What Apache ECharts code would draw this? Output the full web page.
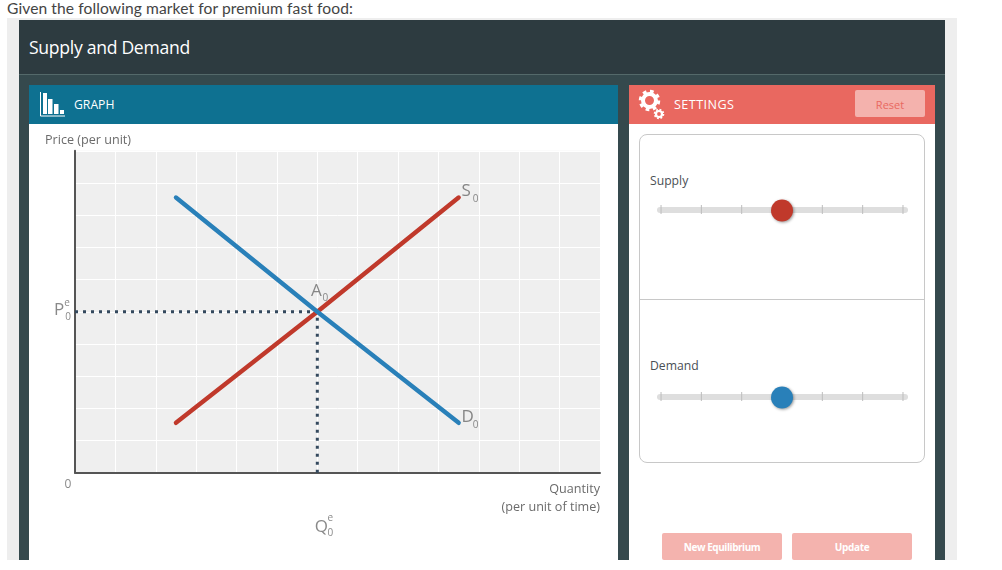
<!DOCTYPE html>
<html lang="en">
<head>
<meta charset="UTF-8">
<title>Supply and Demand</title>
<style>
  html, body { margin: 0; padding: 0; background: #fff; overflow: hidden; }
  body { width: 1002px; height: 570px; position: relative; font-family: "Open Sans", sans-serif; }
  div.b { position: absolute; box-sizing: border-box; }
  div.t { position: absolute; white-space: nowrap; }
  svg { position: absolute; }
  #chart { position: absolute; left: 0; top: 0; width: 1002px; height: 570px; }
</style>
</head>
<body>
  <div class="t" style="left:7px;top:-2px;font:15.6px/20px Lato,sans-serif;color:#444;letter-spacing:0.09px;">Given the following market for premium fast food:</div>
  <div class="b" style="left:7px;top:18px;width:950px;height:542px;background:#eee;"></div>
  <div class="b" style="left:19px;top:20px;width:926px;height:540px;background:#35494d;"></div>
  <div class="b" style="left:19px;top:20px;width:926px;height:55px;background:#2d3b40;border-bottom:1px solid #54696a;"></div>
  <div class="t" style="left:29px;top:35px;font-size:17.6px;font-weight:500;line-height:24px;color:#fff;letter-spacing:-0.3px;">Supply and Demand</div>

  <div class="b" style="left:29px;top:85px;width:589px;height:475px;background:#fff;"></div>
  <div class="b" style="left:29px;top:85px;width:589px;height:39px;background:#0e7191;"></div>
  <svg style="left:39px;top:91px;" width="28" height="28">
    <path d="M1.5 1V25H26" fill="none" stroke="#fff" stroke-width="1"/>
    <rect x="4" y="2" width="4" height="21" fill="#fff"/>
    <rect x="9" y="8" width="4.5" height="15" fill="#fff"/>
    <rect x="15" y="13" width="4.5" height="10" fill="#fff"/>
    <rect x="21" y="19" width="4" height="4" fill="#fff"/>
  </svg>
  <div class="t" style="left:74px;top:96px;font-size:12.2px;line-height:17px;color:#fff;">GRAPH</div>

  <div class="b" style="left:629px;top:85px;width:306px;height:475px;background:#fff;"></div>
  <div class="b" style="left:629px;top:85px;width:306px;height:39px;background:#e96860;"></div>
  <svg style="left:636px;top:86px;" width="34" height="36">
    <circle cx="13.5" cy="14.5" r="6.5" fill="none" stroke="#fff" stroke-width="4"/>
    <circle cx="13.5" cy="14.5" r="9" fill="none" stroke="#fff" stroke-width="3.5" stroke-dasharray="3.6 3.5"/>
    <circle cx="23" cy="28" r="3" fill="none" stroke="#fff" stroke-width="2.2"/>
    <circle cx="23" cy="28" r="4.4" fill="none" stroke="#fff" stroke-width="1.8" stroke-dasharray="1.8 1.65"/>
  </svg>
  <div class="t" style="left:674px;top:96px;font-size:12.6px;line-height:17px;color:#fff;letter-spacing:0.45px;">SETTINGS</div>
  <div class="b" style="left:855px;top:90px;width:70px;height:27px;background:#f4b2ad;border-radius:2px;text-align:center;font-size:11px;line-height:29px;color:#e96860;">Reset</div>

  <div class="b" style="left:639px;top:134px;width:286px;height:329px;border:1px solid #c8c8c8;border-radius:8px;"></div>
  <div class="b" style="left:640px;top:299px;width:284px;height:1px;background:#c8c8c8;"></div>
  <div class="t" style="left:650px;top:172px;font-size:12.2px;line-height:17px;color:#4a4f55;">Supply</div>
  <div class="t" style="left:650px;top:357px;font-size:12.2px;line-height:17px;color:#4a4f55;">Demand</div>
  <div class="b" style="left:662px;top:533px;width:120px;height:27px;background:#f4b3ae;border-radius:2px;text-align:center;font-size:10px;font-weight:700;line-height:28px;color:#fff;letter-spacing:-0.45px;">New Equilibrium</div>
  <div class="b" style="left:792px;top:533px;width:120px;height:27px;background:#f4b3ae;border-radius:2px;text-align:center;font-size:10px;font-weight:700;line-height:28px;color:#fff;letter-spacing:-0.3px;">Update</div>

  <div id="chart"></div>

<script src="https://cdn.jsdelivr.net/npm/echarts@6/dist/echarts.min.js"></script>
<script>
  // curves (quantity, price)
  var supply = [[2.5, 1.55], [6, 5], [9.5, 8.55]];
  var demand = [[2.5, 8.55], [6, 5], [9.5, 1.55]];
  // dotted guides to the equilibrium
  var priceGuide = [[0, 5], [6, 5]];
  var quantityGuide = [[6, 0], [6, 5]];
  // slider stops and where the thumbs sit
  var sliderStops = [0, 1, 2, 3, 4, 5, 6];
  var supplyThumb = 3;
  var demandThumb = 3;

  var greyText = '#6b6b6b';
  var chart = echarts.init(document.getElementById('chart'));

  function curve(name, data, color) {
    return {
      name: name, type: 'line', data: data, symbol: 'none', z: 3,
      lineStyle: { color: color, width: 4.4, cap: 'round' }
    };
  }
  function guide(data) {
    return {
      type: 'line', data: data, symbol: 'none', z: 2,
      lineStyle: { color: '#34495e', width: 3, type: [3, 5] }
    };
  }
  // text placed next to a data point, size in px
  function note(point, text, size, offset) {
    return {
      value: point,
      label: { show: true, position: 'inside', formatter: text, offset: offset, color: greyText, fontSize: size, fontFamily: 'Open Sans' }
    };
  }
  function sliderGrid(top) {
    return { left: 660, width: 245, top: top, height: 1 };
  }
  function sliderX(i) {
    return {
      type: 'value', gridIndex: i, min: -0.0255, max: 6.05,
      splitLine: { show: false }, axisTick: { show: false }, axisLabel: { show: false },
      axisLine: { lineStyle: { color: '#dedede', width: 6, cap: 'round' } }
    };
  }
  function sliderY(i) {
    return { type: 'value', gridIndex: i, min: 0, max: 1, show: false };
  }
  function sliderSeries(i, thumb, color) {
    return [{
      type: 'scatter', xAxisIndex: i, yAxisIndex: i, z: 3, symbol: 'rect', symbolSize: [1, 9],
      data: sliderStops.map(function (s) { return [s, 0]; }),
      itemStyle: { color: '#bdbdbd', opacity: 1 }
    }, {
      type: 'scatter', xAxisIndex: i, yAxisIndex: i, z: 4, symbolSize: 22, symbolOffset: [0, 1],
      data: [[thumb, 0]],
      itemStyle: { color: color, opacity: 1, shadowColor: 'rgba(0,0,0,0.4)', shadowBlur: 3, shadowOffsetX: 1, shadowOffsetY: 1 }
    }];
  }

  var option = {
    animation: false,
    grid: [
      { left: 75, width: 525, top: 150.8, height: 321.9, show: true, backgroundColor: '#efefef', borderWidth: 0 },
      sliderGrid(208.5),
      sliderGrid(395.5)
    ],
    xAxis: [{
      type: 'value', min: 0, max: 13, interval: 1,
      name: 'Quantity\n(per unit of time)', nameLocation: 'end',
      nameTextStyle: { color: greyText, fontSize: 12.6, lineHeight: 18, align: 'right', verticalAlign: 'top', padding: [8, 0, 0, 0], fontFamily: 'Open Sans' },
      nameGap: 0,
      axisLine: { lineStyle: { color: '#555', width: 2 } },
      axisTick: { show: false }, axisLabel: { show: false },
      splitLine: { lineStyle: { color: '#fff', width: 1 } }
    }, sliderX(1), sliderX(2)],
    yAxis: [{
      type: 'value', min: 0, max: 10, interval: 1,
      name: 'Price (per unit)', nameLocation: 'end',
      nameTextStyle: { color: greyText, fontSize: 12.6, align: 'left', padding: [0, 0, 0, -30], fontFamily: 'Open Sans' },
      nameGap: 4,
      axisLine: { lineStyle: { color: '#555', width: 2 } },
      axisTick: { show: false }, axisLabel: { show: false },
      splitLine: { lineStyle: { color: '#fff', width: 1 } }
    }, sliderY(1), sliderY(2)],
    series: [
      guide(priceGuide),
      guide(quantityGuide),
      curve('Supply', supply, '#c0392b'),
      curve('Demand', demand, '#2980b9'),
      {
        type: 'scatter', symbolSize: 0, z: 5, clip: false,
        data: [
          note(supply[2], 'S', 17, [7.5, -6]),
          note(supply[2], '0', 10, [17, 2]),
          note(demand[2], 'D', 17, [9, -6]),
          note(demand[2], '0', 10, [17, 2]),
          note(supply[1], 'A', 17, [-1, -21]),
          note(supply[1], '0', 10, [8, -14]),
          note(priceGuide[0], 'P', 17, [-16, -2]),
          note(priceGuide[0], 'e', 10, [-8, -9]),
          note(priceGuide[0], '0', 10, [-7, 5]),
          note(quantityGuide[0], 'Q', 17, [4, 54]),
          note(quantityGuide[0], 'e', 10, [13, 45]),
          note(quantityGuide[0], '0', 10, [13, 60]),
          note([0, 0], '0', 12, [-7, 12])
        ]
      }
    ].concat(sliderSeries(1, supplyThumb, '#c0392b'), sliderSeries(2, demandThumb, '#2980b9'))
  };
  chart.setOption(option);
</script>
</body>
</html>
